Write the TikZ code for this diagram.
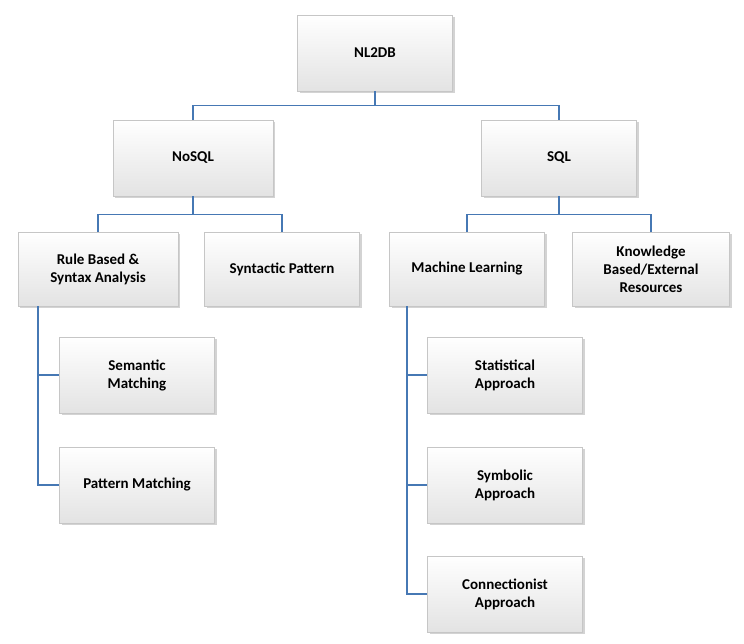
\documentclass[tikz,border=0pt]{standalone}
\usepackage{fontspec}
\setmainfont{Carlito}
\usetikzlibrary{shadows}
\begin{document}
\begin{tikzpicture}[x=1pt,y=-1pt,
 box/.style={draw=gray!45,line width=0.6pt,minimum width=155pt,minimum height=76pt,align=center,
   top color=white,bottom color=gray!22,drop shadow={shadow xshift=2pt,shadow yshift=-2pt,opacity=0.35},
   font=\fontsize{15}{18}\selectfont\bfseries},
 ln/.style={draw={rgb,255:red,70;green,120;blue,180},line width=1.3pt}]
\useasboundingbox (0,0) rectangle (744,644);
\node[box] (root) at (375,53) {NL2DB};
\node[box,minimum width=160pt] (nosql) at (193,158) {NoSQL};
\node[box] (sql) at (559,158) {SQL};
\node[box,minimum width=160pt,minimum height=74pt] (rule) at (98,269) {Rule Based \&\\Syntax Analysis};
\node[box,minimum height=74pt] (syn) at (282,269) {Syntactic Pattern};
\node[box,minimum height=74pt] (ml) at (467,269) {Machine Learning};
\node[box,minimum width=157pt,minimum height=74pt] (kb) at (651,269) {Knowledge\\Based/External\\Resources};
\node[box] (sem) at (137,375) {Semantic\\Matching};
\node[box] (pat) at (137,485) {Pattern Matching};
\node[box] (stat) at (505,375) {Statistical\\Approach};
\node[box] (sym) at (505,485) {Symbolic\\Approach};
\node[box] (con) at (505,594) {Connectionist\\Approach};
\draw[ln] (root.south) -- ++(0,14) -| (nosql.north);
\draw[ln] (root.south) ++(0,14) -| (sql.north);
\draw[ln] (nosql.south) -- ++(0,18) -| (rule.north);
\draw[ln] (nosql.south) ++(0,18) -| (syn.north);
\draw[ln] (sql.south) -- ++(0,18) -| (ml.north);
\draw[ln] (sql.south) ++(0,18) -| (kb.north);
\coordinate (r0) at ([xshift=-60pt]rule.south);
\draw[ln] (r0) |- (sem.west);
\draw[ln] (r0) |- (pat.west);
\coordinate (m0) at ([xshift=-60pt]ml.south);
\draw[ln] (m0) |- (stat.west);
\draw[ln] (m0) |- (sym.west);
\draw[ln] (m0) |- (con.west);
\end{tikzpicture}
\end{document}
